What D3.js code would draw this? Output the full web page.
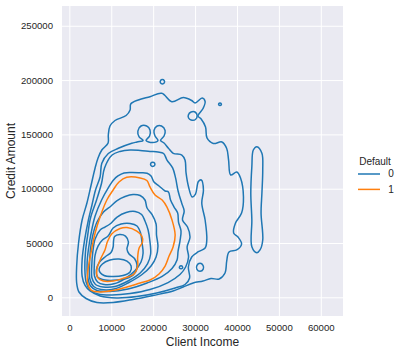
<!DOCTYPE html>
<html>
<head>
<meta charset="utf-8">
<script src="https://cdn.jsdelivr.net/npm/d3@7"></script>
<style>
  body { margin: 0; background: #fff; }
  text { font-family: "Liberation Sans", Arial, sans-serif; fill: #262626; }
</style>
</head>
<body>
<svg id="chart" width="401" height="353"></svg>
<script>
// ticks
var xTicks = [0, 10000, 20000, 30000, 40000, 50000, 60000];
var yTicks = [0, 50000, 100000, 150000, 200000, 250000];

// contour lines, [income, credit]
// Default = 0, outer to inner
var blue1 = [[22050,187800],[19250,184700],[16450,181700],[14650,178000],[14500,172500],[13550,167400],[10900,162800],[9700,157700],[9300,149400],[9250,142100],[7750,135600],[6850,128300],[6150,119100],[5200,103400],[4200,86800],[3050,71200],[2200,50000],[1750,28800],[1750,13200],[2300,4900],[4000,-1100],[6600,-4800],[10450,-4800],[15200,-2000],[20000,1700],[24750,5800],[27150,9500],[29550,13200],[31900,15000],[33800,17300],[35750,16900],[37150,22400],[37550,33400],[38100,41700],[39950,43600],[41100,49100],[40250,55500],[39200,59200],[39650,68400],[41100,77600],[41550,92400],[40850,109900],[39950,115400],[38500,112600],[38000,126400],[37550,137000],[36400,143000],[34350,141600],[32850,146700],[32500,156800],[31450,164200],[30700,166900],[31900,173800],[32400,180300],[31700,183500],[30000,178900],[29200,181200],[27200,184000],[24450,180100]];
var blue2 = [[14900,141800],[11700,137200],[9300,132400],[7750,123400],[7350,111000],[6250,98800],[5400,85000],[4550,71200],[3650,52800],[3050,34300],[3050,19600],[3750,10900],[4950,5800],[7350,1200],[11300,-600],[16100,700],[20850,4000],[25250,8600],[27600,11800],[28700,17800],[28400,27900],[29200,37100],[30800,42000],[32400,45400],[32800,52800],[32400,71200],[31600,86800],[32000,98800],[31500,108000],[30800,106600],[30100,95100],[29300,92400],[28450,101600],[27850,114500],[27600,126400],[26850,131000],[24800,132600],[23650,137200],[22600,142100],[21750,144400],[22600,148500],[22850,153600],[22000,157700],[20950,157700],[20200,153600],[20450,148500],[21150,144400],[19850,142500],[18300,144400],[19150,148500],[19250,154100],[18450,157700],[17100,157700],[16350,153100],[16650,147600],[17600,144400],[16150,143000]];
var blue3 = [[10200,131000],[12100,134300],[14500,135600],[16900,135200],[19250,134300],[21150,133800],[22500,132400],[23300,126400],[24650,119100],[25350,109900],[25950,97900],[26800,86800],[27400,79500],[27000,71200],[28200,64700],[28800,55500],[28100,46300],[28450,37100],[27750,27900],[26400,21000],[23550,13600],[19250,7200],[14500,3500],[10200,2100],[6850,3000],[4950,6700],[4000,14100],[3700,27000],[3850,41700],[4350,56400],[5050,73000],[6500,89600],[7700,105200],[8400,119100]];
var blue4 = [[10550,108000],[11600,111700],[13050,114500],[14950,114900],[16900,114600],[18550,114200],[19500,111700],[20200,106200],[21400,102500],[22850,97900],[23650,97000],[24150,89600],[25000,83100],[25850,77600],[26050,69300],[26650,61000],[26400,51800],[25950,42600],[25700,34300],[24500,26500],[22150,19200],[18550,13200],[14000,7600],[9700,5300],[6600,6300],[5050,10400],[4350,19600],[4250,32500],[4600,45400],[5200,59200],[6150,74900],[7700,89600],[9250,100600]];
var blue5 = [[9950,84100],[11400,89100],[13300,92800],[15200,94700],[16900,93700],[18050,89600],[18550,82200],[19750,76200],[20700,67500],[20800,57400],[21150,47200],[20700,37100],[19500,28800],[17350,21000],[14000,13200],[10650,7600],[7550,7200],[5800,9900],[4900,16900],[4800,28800],[5000,42600],[5550,56400],[6600,69300],[8150,78500]];
var blue6 = [[9700,67500],[11400,73900],[13550,78100],[15700,79000],[17250,76200],[18050,70300],[18800,62000],[19250,50900],[19400,39900],[18650,30700],[16900,22400],[14000,15000],[10900,9900],[8050,9500],[6250,11800],[5400,17800],[5350,28800],[5600,41700],[6150,53700],[7350,62000],[8500,64700]];
var blue7 = [[9250,56400],[10450,63800],[12350,67500],[14500,68000],[16150,65700],[17000,59200],[17350,50000],[17600,40800],[17100,32500],[15700,24700],[13300,17300],[10650,12400],[8300,11800],[6750,14100],[6000,19600],[5950,28800],[6150,38900],[6850,47200],[7900,52800]];
var blue8 = [[10550,51800],[10800,56000],[12000,57800],[13400,56400],[14100,50900],[13750,44500],[14250,39900],[15550,35700],[16150,29700],[15800,23300],[14250,18200],[11400,15900],[8500,15900],[6750,18700],[6450,25100],[7100,32000],[8650,37600],[9950,41300],[10450,46300]];
var blue9 = [[7100,25100],[7900,30700],[9700,34300],[11850,35300],[13750,33400],[14750,28800],[14500,23300],[12800,20100],[10450,19200],[8300,20100]];

// small islands of the outer level
var islandLoop = [[28400,167900],[29050,170600],[30000,170600],[30500,167400],[30100,163700],[29050,163300],[28450,165100]];
var islandTop = [[22200,200600],[22650,199600],[22650,197400],[22200,196400],[21750,197400],[21750,199600]];
var islandDot = [[35950,178800],[36250,178200],[36250,177200],[35950,176600],[35650,177200],[35650,178200]];
var islandMid = [[19900,124400],[20350,123500],[20350,121500],[19900,120500],[19450,121500],[19450,123500]];
var islandLow1 = [[26650,29000],[27000,28300],[27000,26900],[26650,26200],[26300,26900],[26300,28300]];
var islandLow2 = [[31200,31300],[31900,29500],[31950,26000],[31200,23950],[30450,25700],[30450,29500]];
var islandRight = [[44750,138700],[45950,132600],[46150,117200],[45950,95800],[45750,77300],[46150,52800],[45500,43600],[44750,41100],[43550,46600],[43550,71200],[43300,95800],[43550,120300],[43900,135600]];

// Default = 1
var orange1 = [[13700,110500],[16900,109900],[18500,107500],[19250,101600],[20450,94200],[22150,89600],[23300,83100],[24500,71200],[25250,57400],[24750,46300],[23800,38000],[22850,28800],[21400,21500],[19250,15900],[16900,13200],[13750,9500],[10450,6300],[7350,4900],[5200,6700],[4350,13200],[4450,25100],[5200,41700],[6150,59200],[7350,74200],[8950,89600],[10450,98800],[11850,106200]];
var orange2 = [[10100,58300],[12100,63400],[13750,64300],[16100,61000],[17300,56400],[17450,50900],[16650,45400],[16300,36600],[16300,28400],[15450,21500],[12900,17500],[10500,15000],[8100,15000],[6750,18200],[6550,25100],[7450,35300],[8500,43600],[9100,51400]];

var blueLines = [blue1, blue2, blue3, blue4, blue5, blue6, blue7, blue8, blue9,
  islandLoop, islandTop, islandDot, islandMid, islandLow1, islandLow2, islandRight];
var orangeLines = [orange1, orange2];

var margin = {top: 6, right: 58, bottom: 37, left: 62},
    width = 401 - margin.left - margin.right,
    height = 353 - margin.top - margin.bottom;

var x = d3.scaleLinear().domain([-1750, 65300]).range([0, width]);
var y = d3.scaleLinear().domain([-17200, 268200]).range([height, 0]);

var svg = d3.select("#chart");
var g = svg.append("g")
    .attr("transform", "translate(" + margin.left + "," + margin.top + ")");

g.append("rect")
    .attr("width", width)
    .attr("height", height)
    .style("fill", "#eaeaf2");

// grid + tick labels
var xAxis = g.append("g")
    .attr("transform", "translate(0," + height + ")")
    .call(d3.axisBottom(x).tickValues(xTicks).tickSize(-height).tickPadding(8).tickFormat(d3.format("d")));
var yAxis = g.append("g")
    .call(d3.axisLeft(y).tickValues(yTicks).tickSize(-width).tickPadding(9).tickFormat(d3.format("d")));

[xAxis, yAxis].forEach(function(a) {
  a.select(".domain").remove();
  a.selectAll("line").style("stroke", "#fff").style("stroke-width", 1);
  a.selectAll("text").style("font-size", "9.6px").style("fill", "#262626")
    .style("font-family", "'Liberation Sans', Arial, sans-serif");
});

g.append("clipPath").attr("id", "clip")
  .append("rect").attr("width", width).attr("height", height);

var line = d3.line()
    .x(function(d) { return x(d[0]); })
    .y(function(d) { return y(d[1]); })
    .curve(d3.curveCatmullRomClosed.alpha(0.5));

var plot = g.append("g").attr("clip-path", "url(#clip)");

plot.selectAll(".blue")
    .data(blueLines)
    .enter().append("path")
    .attr("class", "blue")
    .attr("d", line)
    .style("fill", "none")
    .style("stroke", "#1f77b4")
    .style("stroke-width", 1.5);

plot.selectAll(".orange")
    .data(orangeLines)
    .enter().append("path")
    .attr("class", "orange")
    .attr("d", line)
    .style("fill", "none")
    .style("stroke", "#ff7f0e")
    .style("stroke-width", 1.5);

// axis titles
svg.append("text")
    .attr("x", margin.left + width / 2)
    .attr("y", 345.5)
    .attr("text-anchor", "middle")
    .style("font-size", "12px")
    .text("Client Income");

svg.append("text")
    .attr("transform", "translate(15," + (margin.top + height / 2) + ") rotate(-90)")
    .attr("text-anchor", "middle")
    .style("font-size", "12px")
    .text("Credit Amount");

// legend
var legend = svg.append("g");
legend.append("text")
    .attr("x", 375)
    .attr("y", 165)
    .attr("text-anchor", "middle")
    .style("font-size", "10px")
    .text("Default");

var legendItems = [{label: "0", color: "#1f77b4"}, {label: "1", color: "#ff7f0e"}];
legendItems.forEach(function(d, i) {
  var ly = 174 + i * 15.4;
  legend.append("line")
      .attr("x1", 358).attr("x2", 380)
      .attr("y1", ly).attr("y2", ly)
      .style("stroke", d.color)
      .style("stroke-width", 1.5);
  legend.append("text")
      .attr("x", 388.3)
      .attr("y", ly + 3.4)
      .style("font-size", "10px")
      .text(d.label);
});
</script>
</body>
</html>
